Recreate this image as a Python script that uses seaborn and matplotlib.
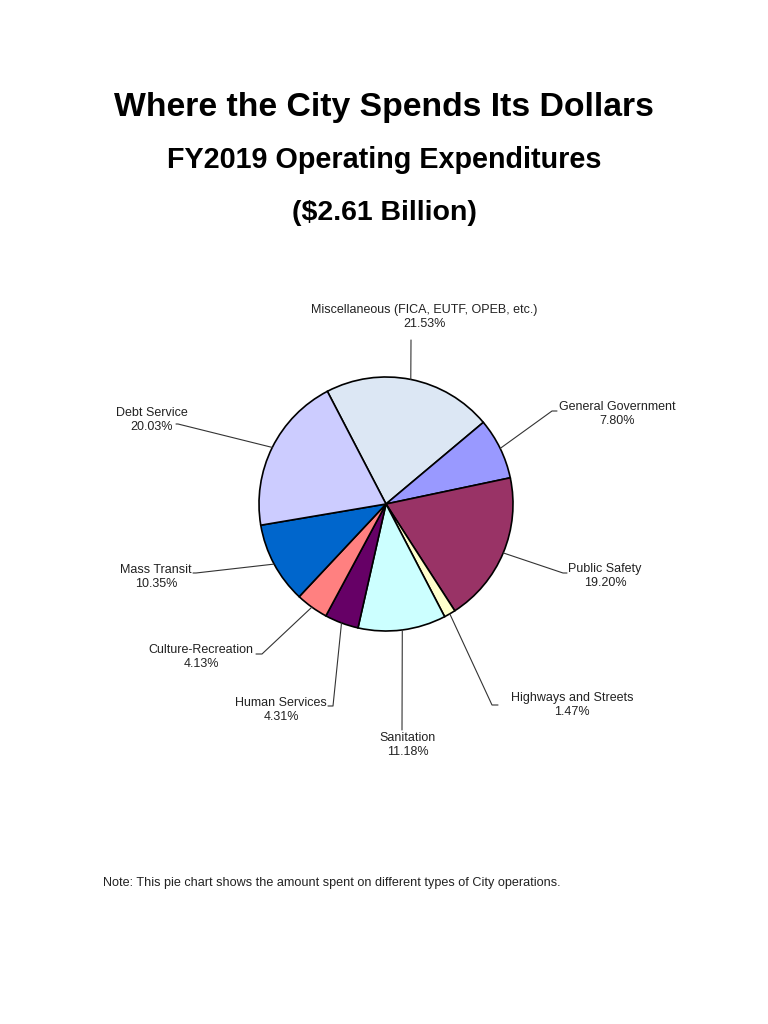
import matplotlib
matplotlib.use("Agg")
import matplotlib.pyplot as plt
import seaborn as sns
import numpy as np

# data (percent of FY2019 operating expenditures), clockwise from the top-left slice
categories = ["Miscellaneous (FICA, EUTF, OPEB, etc.)", "General Government", "Public Safety",
              "Highways and Streets", "Sanitation", "Human Services", "Culture-Recreation",
              "Mass Transit", "Debt Service"]
shares = [21.53, 7.80, 19.20, 1.47, 11.18, 4.31, 4.13, 10.35, 20.03]
colors = ["#dce7f4", "#9999ff", "#993366", "#ffffcc", "#ccffff", "#660066", "#ff8080",
          "#0066cc", "#ccccff"]

# label layout in pixel coords: text centre x, first line y, elbow point, end of short horizontal
label_pos = [(424, 309, 411, 340, 411), (617, 406, 552, 411, 557), (605, 568, 563, 573, 567),
             (572, 697, 492, 705, 498), (408, 737, 402, 730, 402), (281, 702, 333, 706, 328),
             (201, 649, 262, 654, 256), (156, 569, 196, 573, 193), (152, 412, 178, 424, 176)]

sns.set_theme(style="white")
plt.rcParams['font.family'] = ['Liberation Sans', 'DejaVu Sans']

H = 1024
fig = plt.figure(figsize=(7.68, 10.24), dpi=100)
ax = fig.add_axes([0, 0, 1, 1])

cx, cy, r = 386, H - 504, 127
wedges, _ = ax.pie(shares, colors=colors, startangle=117.5, counterclock=False,
                   center=(cx, cy), radius=r, frame=True,
                   wedgeprops=dict(edgecolor="black", linewidth=1.2))
ax.set_xlim(0, 768)
ax.set_ylim(0, H)
ax.set_aspect('equal')
ax.axis('off')

txt = "#222222"
for w, name, val, (tx, ty, ex, ey, hx) in zip(wedges, categories, shares, label_pos):
    mid = np.deg2rad((w.theta1 + w.theta2) / 2)
    px, py = cx + r * np.cos(mid), cy + r * np.sin(mid)
    ax.plot([px, ex, hx], [py, H - ey, H - ey], color="#333333", lw=0.8)
    ax.text(tx, H - ty - 8, f"{name}\n{val:.2f}%", ha="center", va="center",
            fontsize=9, color=txt, linespacing=1.25)

fig.text(0.5, 1 - 116 / H, "Where the City Spends Its Dollars", ha="center", va="baseline",
         fontsize=24.3, fontweight="bold", color="black")
fig.text(0.5, 1 - 168 / H, "FY2019 Operating Expenditures", ha="center", va="baseline",
         fontsize=20.7, fontweight="bold", color="black")
fig.text(0.5, 1 - 220 / H, "($2.61 Billion)", ha="center", va="baseline",
         fontsize=20.5, fontweight="bold", color="black")
fig.text(103 / 768, 1 - 883 / H, "Note: This pie chart shows the amount spent on different types of City operations.",
         ha="left", va="center", fontsize=9.1, color=txt)

fig.savefig("out.png", dpi=100, facecolor="white")
